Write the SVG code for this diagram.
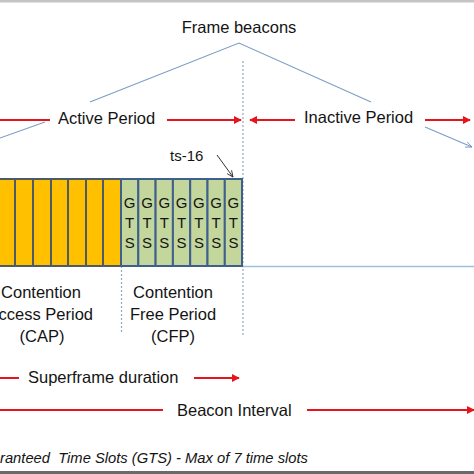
<svg xmlns="http://www.w3.org/2000/svg" width="474" height="474" viewBox="0 0 474 474">
<defs>
<marker id="red" viewBox="0 0 10 10" refX="9" refY="5" markerWidth="4" markerHeight="4.2" orient="auto-start-reverse" markerUnits="strokeWidth">
<path d="M0,0 L10,5 L0,10 z" fill="#e8141b"/>
</marker>
<marker id="blue" viewBox="0 0 10 10" refX="9" refY="5" markerWidth="7" markerHeight="7" orient="auto" markerUnits="userSpaceOnUse">
<path d="M0,1 L9,5 L0,9" fill="none" stroke="#6f93c0" stroke-width="1.2"/>
</marker>
<marker id="dark" viewBox="0 0 10 10" refX="9" refY="5" markerWidth="7" markerHeight="7" orient="auto" markerUnits="userSpaceOnUse">
<path d="M0,1 L9,5 L0,9" fill="none" stroke="#333" stroke-width="1.4"/>
</marker>
</defs>
<style>
text{font-family:"Liberation Sans",Arial,sans-serif;fill:#141414}
.lbl{font-size:16.5px}
.gts{font-size:15px;text-anchor:middle}
.red{stroke:#e8141b;stroke-width:2;fill:none}
.beam{stroke:#7d9cc6;stroke-width:1.1;fill:none}
.dot{stroke:#8fa8c4;stroke-width:1.2;stroke-dasharray:2 2;fill:none}
.cap{fill:#ffc000;stroke:#4e5a66;stroke-width:2}
.cfp{fill:#c3d69b;stroke:#3f5f8c;stroke-width:2}
</style>
<rect width="474" height="474" fill="#fff"/>
<rect x="0" y="0" width="474" height="2.5" fill="#c4c4c4"/>
<rect x="0" y="471" width="474" height="3" fill="#6a6a6a"/>

<g id="connectors">
<polyline class="beam" points="90,102 239,43 371,102"/>
<line class="beam" x1="45" y1="122" x2="0" y2="138"/>
<line class="beam" x1="425" y1="127" x2="472" y2="147" marker-end="url(#blue)"/>
<line class="dot" x1="243" y1="61" x2="243" y2="335"/>
<line class="dot" x1="121.5" y1="266" x2="121.5" y2="333"/>
<line x1="242" y1="266.5" x2="474" y2="266.5" stroke="#9fbfe0" stroke-width="1.5"/>
<line class="red" x1="0" y1="120" x2="50" y2="120"/>
<line class="red" x1="167" y1="120" x2="241" y2="120" marker-end="url(#red)"/>
<line class="red" x1="295" y1="120" x2="250" y2="120" marker-end="url(#red)"/>
<line class="red" x1="425" y1="120" x2="470" y2="120" marker-end="url(#red)"/>
<line class="red" x1="0" y1="378" x2="19" y2="378"/>
<line class="red" x1="194" y1="378" x2="239" y2="378" marker-end="url(#red)"/>
<line class="red" x1="0" y1="410" x2="163" y2="410"/>
<line class="red" x1="307" y1="410" x2="474" y2="410" marker-end="url(#red)"/>
<line x1="217" y1="155" x2="233" y2="177" stroke="#333" stroke-width="1" marker-end="url(#dark)"/>
</g>

<g id="frame-beacons"><text class="lbl" x="239" y="33" text-anchor="middle">Frame beacons</text></g>
<g id="active-period"><text class="lbl" x="58" y="124">Active Period</text></g>
<g id="inactive-period"><text class="lbl" x="304" y="123">Inactive Period</text></g>
<g id="ts16"><text x="170" y="161" font-size="15">ts-16</text></g>

<g id="cap-slots">
<rect class="cap" x="-3" y="179" width="18" height="87"/>
<rect class="cap" x="15" y="179" width="18" height="87"/>
<rect class="cap" x="33" y="179" width="18" height="87"/>
<rect class="cap" x="51" y="179" width="17" height="87"/>
<rect class="cap" x="68" y="179" width="18" height="87"/>
<rect class="cap" x="86" y="179" width="17" height="87"/>
<rect class="cap" x="103" y="179" width="18" height="87"/>
</g>
<g id="cfp-slots">
<rect class="cfp" x="121" y="179" width="17.3" height="87"/>
<rect class="cfp" x="138.3" y="179" width="17.3" height="87"/>
<rect class="cfp" x="155.6" y="179" width="17.3" height="87"/>
<rect class="cfp" x="172.9" y="179" width="17.3" height="87"/>
<rect class="cfp" x="190.2" y="179" width="17.3" height="87"/>
<rect class="cfp" x="207.5" y="179" width="17.3" height="87"/>
<rect class="cfp" x="224.8" y="179" width="17.2" height="87"/>
<g>
<text class="gts" x="129.7" y="207.5">G</text><text class="gts" x="129.7" y="227.5">T</text><text class="gts" x="129.7" y="247.5">S</text>
<text class="gts" x="147" y="207.5">G</text><text class="gts" x="147" y="227.5">T</text><text class="gts" x="147" y="247.5">S</text>
<text class="gts" x="164.3" y="207.5">G</text><text class="gts" x="164.3" y="227.5">T</text><text class="gts" x="164.3" y="247.5">S</text>
<text class="gts" x="181.6" y="207.5">G</text><text class="gts" x="181.6" y="227.5">T</text><text class="gts" x="181.6" y="247.5">S</text>
<text class="gts" x="198.9" y="207.5">G</text><text class="gts" x="198.9" y="227.5">T</text><text class="gts" x="198.9" y="247.5">S</text>
<text class="gts" x="216.2" y="207.5">G</text><text class="gts" x="216.2" y="227.5">T</text><text class="gts" x="216.2" y="247.5">S</text>
<text class="gts" x="233.4" y="207.5">G</text><text class="gts" x="233.4" y="227.5">T</text><text class="gts" x="233.4" y="247.5">S</text>
</g>
</g>

<g id="cap-label">
<text class="lbl" x="41" y="298" text-anchor="middle">Contention</text>
<text class="lbl" x="93" y="320" text-anchor="end">ccess Period</text>
<text class="lbl" x="42" y="342" text-anchor="middle">(CAP)</text>
</g>
<g id="cfp-label">
<text class="lbl" x="173" y="298" text-anchor="middle">Contention</text>
<text class="lbl" x="173" y="320" text-anchor="middle">Free Period</text>
<text class="lbl" x="173" y="342" text-anchor="middle">(CFP)</text>
</g>
<g id="superframe"><text class="lbl" x="28" y="383">Superframe duration</text></g>
<g id="beacon-interval"><text class="lbl" x="177" y="416">Beacon Interval</text></g>
<g id="note"><text x="0" y="463" font-size="14" font-style="italic" textLength="308" lengthAdjust="spacingAndGlyphs" xml:space="preserve">ranteed  Time Slots (GTS) - Max of 7 time slots</text></g>
</svg>
